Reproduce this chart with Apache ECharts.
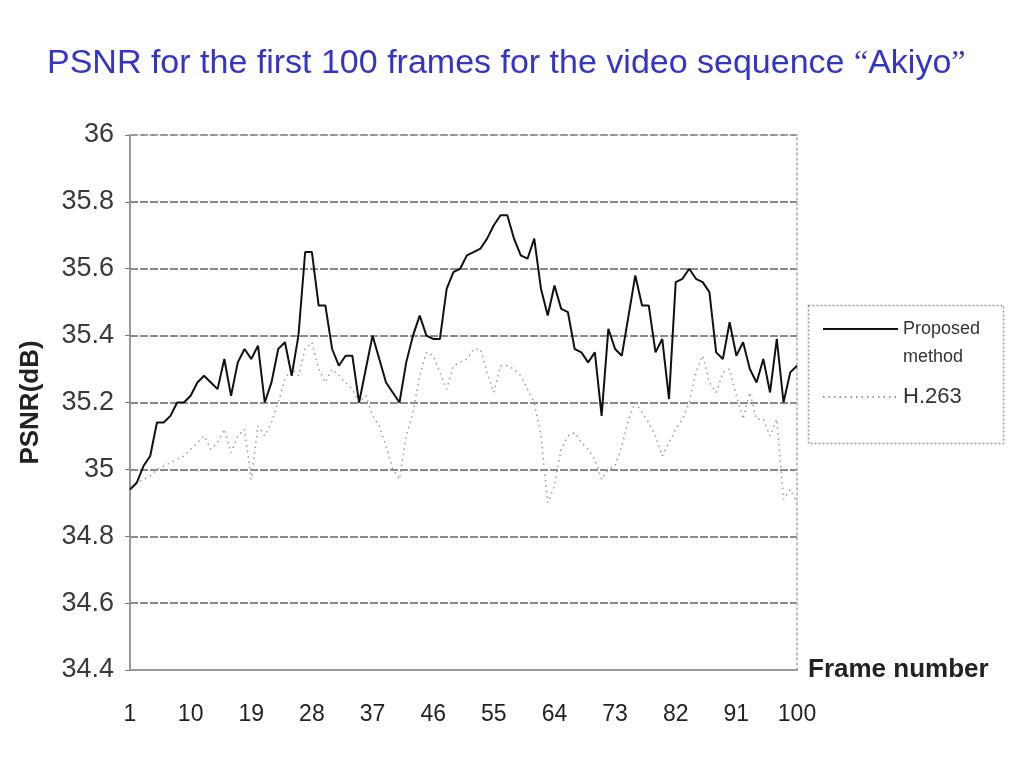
<!DOCTYPE html>
<html>
<head>
<meta charset="utf-8">
<script src="https://cdn.jsdelivr.net/npm/echarts@6/dist/echarts.min.js"></script>
<style>
html,body{margin:0;padding:0;background:#fff;}
#chart{width:1024px;height:768px;}
</style>
</head>
<body>
<div id="chart"></div>
<script>
// Frame numbers 1..100
const frames = [];
for (let i = 1; i <= 100; i++) frames.push(String(i));

const proposed = [
  34.94, 34.96, 35.01, 35.04, 35.14, 35.14, 35.16, 35.20, 35.20, 35.22,
  35.26, 35.28, 35.26, 35.24, 35.33, 35.22, 35.32, 35.36, 35.33, 35.37,
  35.20, 35.26, 35.36, 35.38, 35.28, 35.40, 35.65, 35.65, 35.49, 35.49,
  35.36, 35.31, 35.34, 35.34, 35.20, 35.30, 35.40, 35.33, 35.26, 35.23,
  35.20, 35.32, 35.40, 35.46, 35.40, 35.39, 35.39, 35.54, 35.59, 35.60,
  35.64, 35.65, 35.66, 35.69, 35.73, 35.76, 35.76, 35.69, 35.64, 35.63,
  35.69, 35.54, 35.46, 35.55, 35.48, 35.47, 35.36, 35.35, 35.32, 35.35,
  35.16, 35.42, 35.36, 35.34, 35.46, 35.58, 35.49, 35.49, 35.35, 35.39,
  35.21, 35.56, 35.57, 35.60, 35.57, 35.56, 35.53, 35.35, 35.33, 35.44,
  35.34, 35.38, 35.30, 35.26, 35.33, 35.23, 35.39, 35.20, 35.29, 35.31
];

const h263 = [
  34.95, 34.96, 34.97, 34.98, 35.00, 35.01, 35.02, 35.03, 35.04, 35.06,
  35.08, 35.10, 35.06, 35.08, 35.12, 35.05, 35.10, 35.12, 34.97, 35.13,
  35.10, 35.14, 35.20, 35.27, 35.30, 35.28, 35.36, 35.38, 35.30, 35.26,
  35.30, 35.28, 35.26, 35.24, 35.20, 35.22, 35.16, 35.13, 35.07, 35.00,
  34.97, 35.10, 35.17, 35.28, 35.35, 35.34, 35.29, 35.24, 35.31, 35.32,
  35.33, 35.36, 35.36, 35.29, 35.23, 35.31, 35.31, 35.30, 35.28, 35.24,
  35.20, 35.10, 34.90, 34.95, 35.06, 35.10, 35.11, 35.08, 35.06, 35.03,
  34.97, 35.00, 35.01, 35.07, 35.15, 35.20, 35.17, 35.14, 35.10, 35.04,
  35.08, 35.12, 35.15, 35.20, 35.29, 35.34, 35.26, 35.23, 35.29, 35.30,
  35.22, 35.15, 35.23, 35.15, 35.15, 35.10, 35.15, 34.91, 34.94, 34.90
];

const seriesNames = ['Proposed method', 'H.263'];
const titleText = 'PSNR for the first 100 frames for the video sequence ';
const titleQuoted = 'Akiyo';
const yAxisName = 'PSNR(dB)';
const xAxisName = 'Frame number';

const chart = echarts.init(document.getElementById('chart'), null, {renderer: 'canvas'});

const option = {
  backgroundColor: '#ffffff',
  animation: false,
  title: {
    text: '{t|' + titleText + '}{q|\u201C}{t|' + titleQuoted + '}{q|\u201D}',
    left: 42,
    top: 42,
    textStyle: {
      fontWeight: 'normal',
      rich: {
        t: {fontFamily: 'Liberation Sans', fontSize: 34, fontWeight: 'normal', color: '#3434c8'},
        q: {fontFamily: 'Liberation Serif', fontSize: 32, fontWeight: 'normal', color: '#3434c8'}
      }
    }
  },
  graphic: [{
    type: 'rect',
    shape: {x: 808.5, y: 305.5, width: 195, height: 138},
    style: {fill: '#fff', stroke: '#999', lineWidth: 1.5, lineDash: [2, 2]},
    z: 0
  }],
  legend: {
    orient: 'vertical',
    left: 817,
    top: 315,
    itemWidth: 75,
    itemHeight: 14,
    itemGap: 20,
    padding: 5,
    z: 5,
    itemStyle: {opacity: 0},
    data: [
      {name: 'Proposed method', textStyle: {padding: [28, 0, 0, 0]}},
      {name: 'H.263'}
    ],
    formatter: function (name) {
      if (name === 'Proposed method') return '{a|Proposed}\n{a|method}';
      return '{b|' + name + '}';
    },
    textStyle: {
      rich: {
        a: {fontFamily: 'Liberation Sans', fontSize: 18, lineHeight: 28, color: '#333'},
        b: {fontFamily: 'Liberation Sans', fontSize: 22, lineHeight: 24, color: '#333'}
      }
    }
  },
  grid: {left: 130, right: 227, top: 135, bottom: 98, containLabel: false},
  xAxis: [{
    type: 'category',
    data: frames,
    boundaryGap: false,
    name: xAxisName,
    nameLocation: 'end',
    nameGap: 11,
    nameTextStyle: {fontFamily: 'Liberation Sans', fontWeight: 'bold', fontSize: 26, color: '#222', verticalAlign: 'middle'},
    axisLine: {show: true, lineStyle: {color: '#999', width: 2}},
    axisTick: {show: false},
    axisLabel: {interval: 8, margin: 33, fontFamily: 'Liberation Sans', fontSize: 23, color: '#222'},
    splitLine: {show: false}
  }, {
    type: 'category',
    data: frames,
    boundaryGap: false,
    position: 'top',
    axisLine: {show: true, lineStyle: {color: '#aaa', width: 1.5, type: [2, 3]}},
    axisTick: {show: false},
    axisLabel: {show: false},
    splitLine: {show: false}
  }],
  yAxis: [{
    type: 'value',
    min: 34.4,
    max: 36,
    interval: 0.2,
    name: yAxisName,
    nameLocation: 'middle',
    nameGap: 86,
    nameRotate: 90,
    nameTextStyle: {fontFamily: 'Liberation Sans', fontWeight: 'bold', fontSize: 26, color: '#222'},
    axisLine: {show: true, lineStyle: {color: '#999', width: 2}},
    axisTick: {show: true, length: 5, lineStyle: {color: '#777'}},
    axisLabel: {margin: 16, fontFamily: 'Liberation Sans', fontSize: 27, color: '#3a3a3a'},
    splitLine: {show: true, lineStyle: {color: '#8a8a8a', width: 2, type: [8, 2]}}
  }, {
    type: 'value',
    min: 34.4,
    max: 36,
    interval: 0.2,
    position: 'right',
    axisLine: {show: true, lineStyle: {color: '#aaa', width: 1.5, type: [2, 3]}},
    axisTick: {show: false},
    axisLabel: {show: false},
    splitLine: {show: false}
  }],
  series: [{
    name: seriesNames[0],
    type: 'line',
    data: proposed,
    symbol: 'none',
    lineStyle: {color: '#111', width: 2},
    itemStyle: {color: '#111'},
    z: 4
  }, {
    name: seriesNames[1],
    type: 'line',
    data: h263,
    symbol: 'none',
    lineStyle: {color: '#999', width: 1.5, type: [1.5, 4]},
    itemStyle: {color: '#999'},
    z: 3
  }]
};

chart.setOption(option);
</script>
</body>
</html>
